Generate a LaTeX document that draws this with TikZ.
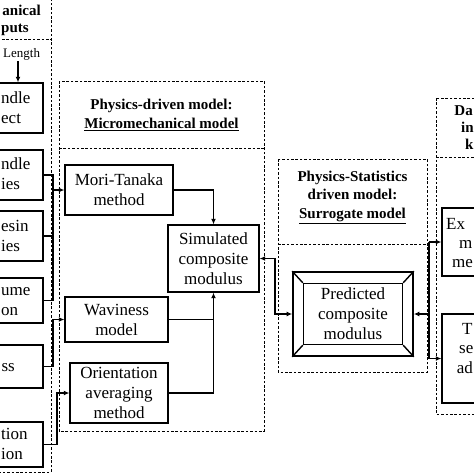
\documentclass[tikz,border=0pt]{standalone}
\usepackage{fontspec}
\setmainfont{Liberation Serif}
\usetikzlibrary{arrows.meta}
\newcommand\myreg{\fontsize{17}{20}\selectfont}
\newcommand\mybold{\fontsize{15}{18.5}\selectfont\bfseries}
\newcommand\mysmall{\fontsize{13}{15}\selectfont}
\begin{document}
\begin{tikzpicture}[x=1pt,y=-1pt,
  box/.style={draw, line width=1.4pt, inner sep=0pt, align=center, font=\myreg},
  conn/.style={line width=1.4pt},
  arr/.style={conn, -{Latex[length=5.5pt,width=5pt]}},
  arrtwo/.style={conn, {Latex[length=5.5pt,width=5pt]}-{Latex[length=5.5pt,width=5pt]}},
  dbox/.style={line width=1pt, dash pattern=on 2.6pt off 1.8pt},
  frag/.style={inner sep=0pt, font=\myreg, text height=11.5pt, text depth=3.5pt},
  bfrag/.style={inner sep=0pt, font=\mybold, text height=10pt, text depth=3pt},
  head/.style={inner sep=0pt, align=center, font=\mybold}]
\useasboundingbox (0,0) rectangle (474,474);
\clip (0,0) rectangle (474,474);

% ---------- left column ----------
\draw[dbox] (-20,-20) rectangle (51,472);
\draw[dbox] (-20,39) -- (51,39);
\node[bfrag, anchor=east] (lh1) at (41,12) {anical};
\node[bfrag, anchor=west] (lh2) at (1,29) {puts};
\node[inner sep=0pt, font=\mysmall, text height=9pt, text depth=3pt, anchor=west] (len) at (3,54) {Length};

\node[box, minimum width=90pt, minimum height=50pt] (l1) at (-2,108) {};
\node[box, minimum width=90pt, minimum height=50pt] (l2) at (-2,175) {};
\node[box, minimum width=90pt, minimum height=50pt] (l3) at (-2,236) {};
\node[box, minimum width=90pt, minimum height=45pt] (l4) at (-2,300.5) {};
\node[box, minimum width=90pt, minimum height=43pt] (l5) at (-2,366.5) {};
\node[box, minimum width=90pt, minimum height=45pt] (l6) at (-2,444.5) {};

\node[frag, anchor=west] (t1a) at (1,99) {ndle};
\node[frag, anchor=west] (t1b) at (1,119) {ect};
\node[frag, anchor=west] (t2a) at (1,165) {ndle};
\node[frag, anchor=west] (t2b) at (1,185) {ies};
\node[frag, anchor=west] (t3a) at (1,227) {esin};
\node[frag, anchor=west] (t3b) at (1,247) {ies};
\node[frag, anchor=west] (t4a) at (1,291) {ume};
\node[frag, anchor=west] (t4b) at (1,311) {on};
\node[frag, anchor=east] (t5a) at (15,367) {ss};
\node[frag, anchor=west] (t6a) at (1,435) {tion};
\node[frag, anchor=west] (t6b) at (1,455) {ion};

% ---------- physics-driven model ----------
\draw[dbox] (59,81) rectangle (264,431);
\draw[dbox] (59,148) -- (264,148);
\node[head] (pdh) at (161.5,115) {Physics-driven model:\\\underline{Micromechanical model}};

\node[box, minimum width=108pt, minimum height=50pt] (mt) at (119,190) {Mori-Tanaka\\method};
\node[box, minimum width=103pt, minimum height=45pt] (wav) at (116.5,319.5) {Waviness\\model};
\node[box, minimum width=98pt, minimum height=60pt] (ori) at (119,393) {Orientation\\averaging\\method};
\node[box, minimum width=91pt, minimum height=67pt] (sim) at (213.5,258.5) {Simulated\\composite\\modulus};

% ---------- physics-statistics model ----------
\draw[dbox] (278,159) rectangle (427,372);
\draw[dbox] (278,244) -- (427,244);
\node[head] (psh) at (352.5,197) {Physics-Statistics\\driven model:\\\underline{Surrogate model}};

\node[draw, line width=1.7pt, minimum width=120pt, minimum height=84pt, inner sep=0pt] (pred) at (353,314) {};
\node[box, line width=1.4pt, minimum width=99pt, minimum height=61pt] (predin) at (353,314) {Predicted\\composite\\modulus};
\draw[conn] (pred.north west) -- (predin.north west);
\draw[conn] (pred.north east) -- (predin.north east);
\draw[conn] (pred.south west) -- (predin.south west);
\draw[conn] (pred.south east) -- (predin.south east);

% ---------- data-driven model ----------
\draw[dbox] (436,98) rectangle (500,414);
\draw[dbox] (436,157) -- (500,157);
\node[bfrag, anchor=east] (dh1) at (473,112) {Da};
\node[bfrag, anchor=west] (dh2) at (461,129) {in};
\node[bfrag, anchor=west] (dh3) at (465,146) {k};

\node[box, minimum width=100pt, minimum height=68pt] (ex) at (492,242) {};
\node[frag, anchor=west] (e1) at (446,225) {Ex};
\node[frag, anchor=west] (e2) at (459,244) {m};
\node[frag, anchor=east] (e3) at (473,263) {me};

\node[box, minimum width=100pt, minimum height=89pt] (tb) at (492,358.5) {};
\node[frag, anchor=west] (s1) at (462,330) {T};
\node[frag, anchor=west] (s2) at (459,349) {se};
\node[frag, anchor=east] (s3) at (473,369) {ad};

% ---------- connectors ----------
\coordinate (bx) at (53,0);
\coordinate (bxb) at (57,0);
\coordinate (jx) at (275,0);
\coordinate (rx) at (429,0);
\coordinate (lenend) at (18,61);

\draw[arr] (lenend) -- (lenend |- l1.north);
\draw[conn] (l2.east) -| (l4.east -| bx) -- (l4.east);
\draw[conn] (l3.east) -- (l3.east -| bx);
\draw[arr] (mt.west -| bx) -- (mt.west);
\draw[arr] (l5.east) -| (wav.west -| bx) -- (wav.west);
\draw[arr] (l6.east) -| (ori.west -| bxb) -- (ori.west);
\draw[arr] (mt.east) -| (sim.north);
\draw[arr] (ori.east) -| (sim.south);
\draw[conn] (wav.east) -- (wav.east -| sim.south);
\draw[arrtwo] (sim.east) -- (sim.east -| jx) |- (pred.west);
\draw[arr] (pred.east -| rx) -- (pred.east);
\draw[conn] (ex.west -| rx) -- (tb.west -| rx);
\draw[arr] (ex.west -| rx) -- (ex.west);
\draw[arr] (tb.west -| rx) -- (tb.west);
\end{tikzpicture}
\end{document}
